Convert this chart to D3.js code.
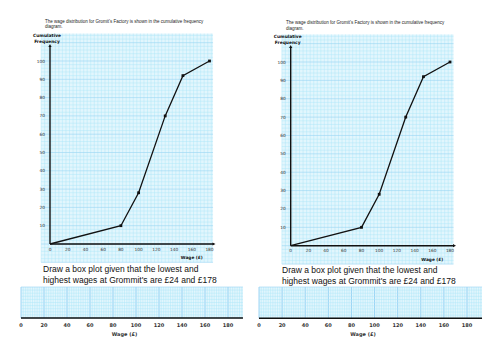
<!DOCTYPE html>
<html><head><meta charset="utf-8">
<script src="https://cdn.jsdelivr.net/npm/d3@7"></script>
<style>body{margin:0;background:#fff}svg{display:block}</style>
</head><body>
<svg id="c" width="500" height="353"></svg>
<script>
const wages = [0, 80, 100, 130, 150, 180];
const cumFreq = [0, 10, 28, 70, 92, 100];
const xTicks = [0, 20, 40, 60, 80, 100, 120, 140, 160, 180];
const yTicks = [10, 20, 30, 40, 50, 60, 70, 80, 90, 100];
const titleLines = ["The wage distribution for Gromit's Factory is shown in the cumulative frequency", "diagram."];
const yLabelLines = ["Cumulative", "Frequency"];
const xLabel = "Wage (£)";
const promptLines = ["Draw a box plot given that the lowest and", "highest wages at Grommit's are £24 and £178"];

const svg = d3.select("#c");
const panels = [
  {x0:50, x180:209.5, y0:244, y100:61, titleX:45, titleY:22.5,
   bx0:21, bx180:228, bAxis:318, bTop:287, promptX:43, promptY:272},
  {x0:290.7, x180:450, y0:245.7, y100:62, titleX:286, titleY:24,
   bx0:259, bx180:467, bAxis:318.3, bTop:287, promptX:282, promptY:273}
];

function grid(g, x, y, xMin, xMax, yMin, yMax, xMinor, xMajor, yMinor, yMajor) {
  g.append("rect").attr("x", x(xMin)).attr("y", y(yMax))
    .attr("width", x(xMax) - x(xMin)).attr("height", y(yMin) - y(yMax))
    .attr("fill", "#e2f6fd");
  const xs = d3.range(xMin, xMax + 0.001, xMinor);
  const ys = d3.range(yMin, yMax + 0.001, yMinor);
  const isMaj = (d, m) => Math.abs(d % m) < 1e-6;
  g.selectAll(null).data(xs).join("line")
    .attr("x1", d => x(d)).attr("x2", d => x(d))
    .attr("y1", y(yMin)).attr("y2", y(yMax))
    .attr("stroke", d => isMaj(d, xMajor) ? "#88caf1" : "#ade6f8")
    .attr("stroke-width", d => isMaj(d, xMajor) ? 0.8 : 0.45);
  g.selectAll(null).data(ys).join("line")
    .attr("y1", d => y(d)).attr("y2", d => y(d))
    .attr("x1", x(xMin)).attr("x2", x(xMax))
    .attr("stroke", d => isMaj(d, yMajor) ? "#98d5f4" : "#ade6f8")
    .attr("stroke-width", d => isMaj(d, yMajor) ? 0.6 : 0.45);
}

panels.forEach(p => {
  const g = svg.append("g");
  const x = d3.scaleLinear().domain([0, 180]).range([p.x0, p.x180]);
  const y = d3.scaleLinear().domain([0, 100]).range([p.y0, p.y100]);

  const t = g.append("text").attr("x", p.titleX).attr("y", p.titleY)
    .attr("font-family", "Liberation Sans").attr("font-size", 4.5).attr("fill", "#222");
  titleLines.forEach((l, i) => t.append("tspan").attr("x", p.titleX).attr("dy", i ? 5.5 : 0).text(l));

  grid(g, x, y, -10, 184, -10, 115, 4, 20, 2, 10);

  const yl = g.append("text").attr("x", p.x0 - 3).attr("y", y(100) - 24.5)
    .attr("font-family", "DejaVu Sans").attr("font-size", 4.4).attr("font-weight", "bold")
    .attr("text-anchor", "middle").attr("fill", "#111");
  yLabelLines.forEach((l, i) => yl.append("tspan").attr("x", p.x0 - 3).attr("dy", i ? 6 : 0).text(l));

  const arrowTopY = y(100) - 17;
  const arrowRightX = x(180) + 6;
  g.append("line").attr("x1", x(0)).attr("x2", x(0)).attr("y1", y(0)).attr("y2", arrowTopY + 2)
    .attr("stroke", "#111").attr("stroke-width", 1.4);
  g.append("path").attr("d", `M${x(0)},${arrowTopY} l-1.6,3 l3.2,0 z`).attr("fill", "#111");
  g.append("line").attr("x1", x(0)).attr("x2", arrowRightX - 2).attr("y1", y(0)).attr("y2", y(0))
    .attr("stroke", "#111").attr("stroke-width", 1.4);
  g.append("path").attr("d", `M${arrowRightX},${y(0)} l-3,-1.6 l0,3.2 z`).attr("fill", "#111");

  g.selectAll(null).data(xTicks).join("text")
    .attr("x", d => x(d)).attr("y", y(0) + 6.5).attr("text-anchor", "middle")
    .attr("font-family", "DejaVu Sans").attr("font-size", 4.3).attr("fill", "#333").text(d => d);
  g.selectAll(null).data(yTicks).join("text")
    .attr("x", x(0) - 5).attr("y", d => y(d) + 1.5).attr("text-anchor", "end")
    .attr("font-family", "DejaVu Sans").attr("font-size", 4.3).attr("fill", "#333").text(d => d);

  g.append("text").attr("x", x(160)).attr("y", y(0) + 15).attr("text-anchor", "middle")
    .attr("font-family", "DejaVu Sans").attr("font-size", 4.3).attr("font-weight", "bold")
    .attr("fill", "#111").text(xLabel);

  const pts = wages.map((w, i) => [w, cumFreq[i]]);
  g.append("path").datum(pts)
    .attr("d", d3.line().x(d => x(d[0])).y(d => y(d[1])))
    .attr("fill", "none").attr("stroke", "#111").attr("stroke-width", 1.3);
  g.selectAll(null).data(pts.slice(1)).join("rect")
    .attr("x", d => x(d[0]) - 1.4).attr("y", d => y(d[1]) - 1.4)
    .attr("width", 2.8).attr("height", 2.8).attr("fill", "#111");

  const pt = g.append("text").attr("x", p.promptX).attr("y", p.promptY)
    .attr("font-family", "Liberation Sans").attr("font-size", 8.5).attr("fill", "#111");
  promptLines.forEach((l, i) => pt.append("tspan").attr("x", p.promptX).attr("dy", i ? 10.5 : 0).text(l));

  const bx = d3.scaleLinear().domain([0, 180]).range([p.bx0, p.bx180]);
  const byScale = d3.scaleLinear().domain([0, 27]).range([p.bAxis, p.bTop]);
  grid(g, bx, byScale, 0, 193, 0, 27, 2, 20, 2.7, 27);
  g.append("line").attr("x1", bx(0)).attr("x2", bx(193)).attr("y1", p.bAxis).attr("y2", p.bAxis)
    .attr("stroke", "#111").attr("stroke-width", 1.6);
  g.selectAll(null).data(xTicks).join("text")
    .attr("x", d => bx(d)).attr("y", p.bAxis + 9).attr("text-anchor", "middle")
    .attr("font-family", "DejaVu Sans").attr("font-size", 5).attr("font-weight", "bold")
    .attr("fill", "#333").text(d => d);
  g.append("text").attr("x", bx(90)).attr("y", p.bAxis + 18).attr("text-anchor", "middle")
    .attr("font-family", "DejaVu Sans").attr("font-size", 5).attr("font-weight", "bold")
    .attr("fill", "#333").text(xLabel);
});
</script>
</body></html>
